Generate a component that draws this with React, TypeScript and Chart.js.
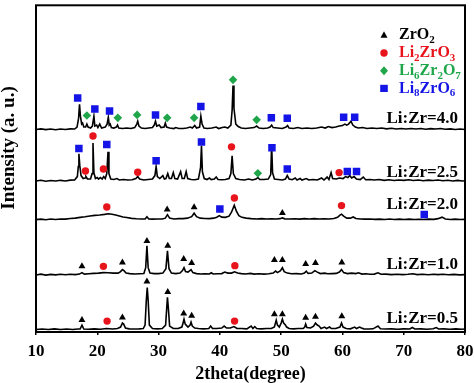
import { useEffect, useRef } from 'react';
import { Chart, registerables } from 'chart.js';

Chart.register(...registerables);

type Pt = [number, number];

const FONT = "'Liberation Serif', 'Times New Roman', serif";

// 2theta axis
const X_MIN = 10;
const X_MAX = 80;
const X_STEP = 10;

// Stacked patterns, bottom to top
const SAMPLE_LABELS = ['Li:Zr=0.5', 'Li:Zr=1.0', 'Li:Zr=2.0', 'Li:Zr=2.5', 'Li:Zr=4.0'];
const SAMPLE_OFFSETS = [2, 57, 113, 152, 204];
const LABEL_LEVELS = [14, 68, 129, 161, 216];

// Diffraction intensities (a. u.) above each pattern's baseline
const pattern05: Pt[] = [
  [10, 0.5], [11, 1], [12, 0.5], [13, 1.2], [14, 0.6], [15, 1], [16, 0.5], [16.8, 1],
  [17.2, 1], [17.5, 5], [17.8, 1], [18.5, 0.8], [19.5, 1.2], [20.5, 0.8], [21.5, 1.5], [22.5, 1], [23.3, 1.5],
  [23.8, 3], [24.1, 7], [24.3, 6], [24.6, 2], [25.2, 1.2], [26, 1], [26.8, 1.2], [27.5, 1.5],
  [27.8, 5], [28.0, 30], [28.15, 43], [28.3, 30], [28.5, 5], [29, 1.5], [29.8, 1.2], [30.6, 1.5],
  [31.15, 5], [31.35, 24], [31.45, 33], [31.6, 22], [31.8, 4], [32.4, 1.5], [33.2, 1.5], [33.8, 3],
  [34.0, 7], [34.15, 11], [34.35, 6], [34.8, 3], [35.15, 5], [35.3, 8], [35.5, 4], [35.9, 2],
  [36.5, 1.5], [37.3, 1.2], [38.2, 1.5], [38.5, 4], [38.8, 1.5], [39.5, 1.5], [40.3, 2], [40.7, 4], [41.1, 2],
  [41.7, 2], [42.3, 3.5], [42.8, 1.5], [43.5, 1.5], [44.4, 1.2], [45.1, 4], [45.4, 1.5], [45.7, 3.5], [46, 1.5],
  [46.8, 1.2], [47.6, 1.5], [48.4, 1.5], [48.9, 3], [49.2, 10], [49.4, 5], [49.7, 3],
  [50.0, 7], [50.2, 11], [50.4, 7], [50.7, 5], [50.9, 3], [51.3, 1.5], [52, 1.2], [52.8, 1.5], [53.6, 1.5],
  [53.85, 3], [54.0, 6], [54.2, 2.5], [54.8, 2], [55.3, 4], [55.6, 7], [55.9, 5], [56.2, 4], [56.5, 1.5],
  [57.1, 3], [57.4, 1.5], [57.9, 3], [58.2, 1.5], [58.9, 1.5], [59.6, 3], [59.85, 7], [60.1, 3], [60.6, 1.5],
  [61.3, 1.2], [62.0, 3], [62.3, 1.5], [62.8, 3], [63.1, 2], [63.5, 1.2], [64.3, 1], [65.0, 1.2], [65.8, 4],
  [66.2, 1.2], [67, 1], [68, 1.2], [69, 0.8], [70, 1.2], [71, 1], [71.4, 2.5], [71.8, 1], [72.8, 1.2],
  [73.8, 0.8], [74.8, 1.2], [75.3, 2.5], [75.7, 1], [76.5, 1.2], [77.5, 0.8], [78.5, 1.2], [79.5, 0.8], [80, 1],
];

const pattern10: Pt[] = [
  [10, 0.6], [10.8, 1.4], [11.6, 0.5], [12.4, 1.2], [13.2, 0.7], [14, 1.4], [14.8, 0.8], [15.6, 1.3], [16.4, 1],
  [17.1, 1.5], [17.5, 3], [17.9, 1.5], [18.6, 1.8], [19.4, 2.2], [20.2, 2.5], [21.0, 3], [21.8, 2.8], [22.6, 2.5],
  [23.4, 2.5], [23.8, 4], [24.1, 6], [24.35, 5], [24.7, 2.5], [25.3, 2], [26.1, 1.6], [26.9, 1.8], [27.6, 2],
  [27.9, 8], [28.1, 30], [28.3, 8], [28.6, 2.5], [29.3, 2], [30.0, 2], [30.7, 2.5], [31.2, 7], [31.45, 25],
  [31.7, 7], [32.1, 2.5], [32.8, 2], [33.5, 2.5], [33.9, 5], [34.15, 8], [34.4, 4], [34.8, 3.5], [35.3, 6],
  [35.6, 3], [36.2, 2], [36.9, 1.6], [37.6, 1.8], [38.3, 1.6], [38.6, 2.8], [38.9, 1.6], [39.6, 1.8], [40.3, 2],
  [40.8, 3.5], [41.3, 2.5], [41.9, 2.5], [42.4, 3.8], [42.9, 2.5], [43.5, 2], [44.2, 1.6], [45.0, 2.2], [45.6, 1.5],
  [46.4, 1.8], [47.2, 1.5], [48.0, 1.8], [48.7, 2.5], [49.1, 4.5], [49.4, 3], [49.9, 5], [50.2, 8], [50.5, 4],
  [51.0, 2.5], [51.7, 1.8], [52.5, 2], [53.3, 1.6], [53.8, 2.5], [54.1, 4.5], [54.4, 2.2], [55.0, 2.5], [55.5, 5],
  [55.9, 3.5], [56.4, 2], [57.1, 2.5], [57.6, 1.8], [58.3, 2], [59.0, 2.2], [59.5, 3.5], [59.85, 6], [60.2, 3],
  [60.8, 2], [61.5, 2.5], [62.2, 2], [62.6, 2.8], [63.2, 1.5], [63.8, 1.8], [64.5, 1.3], [65.2, 1.5], [65.8, 2.8],
  [66.3, 1.3], [67.1, 1.5], [68, 1], [68.9, 1.4], [69.8, 1], [70.7, 1.3], [71.5, 1.8], [72.2, 1], [73.1, 1.3],
  [74, 0.9], [74.9, 1.4], [75.6, 1], [76.4, 1.3], [77.3, 0.8], [78.2, 1.2], [79.1, 0.7], [80, 1],
];

const pattern20: Pt[] = [
  [10, 0.5], [10.8, 1], [11.6, 0.4], [12.4, 1.1], [13.2, 0.6], [14, 1.2], [14.8, 1], [15.6, 1.6], [16.4, 2],
  [17.2, 2.8], [18, 3.4], [18.8, 4.2], [19.6, 4.8], [20.4, 5.2], [21.2, 5.8], [21.8, 6.4], [22.4, 6], [23.0, 5.2],
  [23.6, 4.2], [24.2, 3.2], [24.8, 2.6], [25.6, 1.8], [26.4, 1.4], [27.2, 1.2], [27.8, 1.2], [28.1, 3.5], [28.4, 1.2],
  [29.0, 1], [29.8, 1.2], [30.6, 1.2], [31.1, 2], [31.45, 5.5], [31.8, 2], [32.5, 1.2], [33.3, 1.5], [34.0, 1.5],
  [34.7, 2], [35.4, 3.5], [35.8, 7], [36.2, 3.5], [36.8, 2], [37.5, 1.6], [38.3, 1.5], [39.0, 2], [39.5, 3],
  [39.9, 4.5], [40.3, 3], [40.9, 2.8], [41.5, 4], [41.9, 8], [42.35, 15], [42.7, 9], [43.1, 4.5], [43.6, 2.8],
  [44.3, 2], [45.1, 1.5], [46.0, 1.2], [46.8, 1.5], [47.6, 1.1], [48.4, 1.4], [49.2, 1.2], [49.8, 1.5], [50.2, 2.2],
  [50.6, 1.3], [51.4, 1.2], [52.2, 1.4], [53, 1], [53.8, 1.5], [54.6, 1.1], [55.4, 1.5], [56.2, 1.2], [57.0, 1.4],
  [57.8, 1.2], [58.6, 1.6], [59.2, 2.8], [59.6, 5], [59.85, 6], [60.2, 4], [60.7, 2], [61.3, 2], [61.75, 3.2],
  [62.2, 1.6], [62.9, 1.2], [63.7, 1], [64.5, 1.2], [65.3, 0.8], [66.1, 1], [66.9, 0.7], [67.7, 1.1], [68.5, 0.6],
  [69.3, 1], [70.1, 0.6], [70.9, 1], [71.7, 0.7], [72.5, 0.9], [73.3, 0.6], [74.1, 1], [74.9, 0.8], [75.6, 1.5],
  [76.25, 3], [76.8, 1.2], [77.6, 0.7], [78.4, 1], [79.2, 0.6], [80, 0.8],
];

const pattern25: Pt[] = [
  [10, 0.5], [10.8, 1.2], [11.6, 0.3], [12.4, 1], [13.2, 0.5], [14, 1.2], [14.8, 0.6], [15.6, 1.4], [16.3, 1.5],
  [16.75, 5], [16.9, 15], [17.0, 28], [17.15, 16], [17.35, 6], [17.7, 3], [18.0, 3.5], [18.15, 5], [18.4, 2.5],
  [18.9, 2.5], [19.15, 8], [19.3, 39], [19.45, 9], [19.7, 3], [20.0, 4], [20.2, 2.5], [20.5, 4], [20.8, 2.5],
  [21.05, 5], [21.3, 3], [21.55, 8], [21.75, 30], [21.9, 8], [22.2, 2.5], [22.7, 2], [23.2, 3], [23.6, 1.5],
  [24.3, 2], [25.0, 1.5], [25.7, 1.8], [26.3, 3], [26.6, 5], [26.9, 2.5], [27.6, 1.5], [28.3, 2], [29.0, 2.5],
  [29.4, 6], [29.6, 15], [29.8, 5], [30.2, 3], [30.7, 6], [30.95, 2.5], [31.2, 3], [31.5, 8], [31.75, 3],
  [32.1, 3], [32.4, 9], [32.65, 3], [33.1, 2.5], [33.6, 10], [33.85, 3], [34.2, 3], [34.5, 10], [34.75, 3],
  [35.3, 2], [35.9, 1.8], [36.5, 2.5], [36.85, 14], [37.0, 36], [37.15, 10], [37.45, 3], [37.9, 2], [38.3, 3.5],
  [38.6, 2], [39.1, 2.5], [39.4, 4.5], [39.7, 2], [40.3, 1.8], [40.9, 2], [41.5, 3], [41.8, 8], [42.0, 26],
  [42.2, 8], [42.6, 3], [43.2, 2], [44.0, 1.5], [44.7, 2.5], [45.3, 1.5], [45.9, 2.5], [46.2, 4], [46.5, 2],
  [47.2, 2], [47.9, 2.5], [48.3, 7], [48.45, 37], [48.6, 9], [48.9, 2.5], [49.5, 2], [50.2, 1.5], [50.7, 2.5],
  [51.0, 6], [51.3, 2.5], [51.8, 1.8], [52.3, 3.5], [52.6, 1.5], [53.1, 3], [53.4, 1.5], [54.1, 3], [54.5, 1.5],
  [55.2, 2], [55.9, 1.5], [56.6, 3.5], [57.0, 1.5], [57.5, 4.5], [57.8, 2], [58.15, 9], [58.4, 3], [59.0, 2.5],
  [59.5, 3.5], [60.1, 3], [60.5, 5], [60.9, 4], [61.2, 6], [61.5, 3.5], [61.9, 5], [62.3, 2.5], [62.9, 2],
  [63.4, 4.5], [63.8, 1.8], [64.5, 2], [65.2, 1.5], [66, 2], [66.8, 1.2], [67.6, 1.8], [68.4, 1], [69.2, 1.6],
  [70, 1.2], [70.8, 1.8], [71.6, 1], [72.4, 1.5], [73.2, 0.8], [74, 1.4], [74.8, 1], [75.6, 1.6], [76.4, 0.8],
  [77.2, 1.3], [78, 0.6], [78.8, 1.2], [79.6, 0.6], [80, 0.8],
];

const pattern40: Pt[] = [
  [10, 0.5], [10.8, 1.2], [11.6, 0.4], [12.4, 1], [13.2, 0.3], [14, 1.1], [14.8, 0.5], [15.6, 1.2], [16.3, 1],
  [16.7, 3], [16.95, 12], [17.1, 26], [17.25, 14], [17.45, 6], [17.6, 7], [17.8, 3], [18.1, 3], [18.3, 6],
  [18.5, 3], [18.9, 2], [19.2, 4], [19.45, 14], [19.6, 4], [19.9, 5], [20.1, 2.5], [20.4, 6], [20.7, 2],
  [21.3, 3], [21.6, 6], [21.8, 13], [21.95, 5], [22.1, 6], [22.3, 2.5], [22.7, 2], [23.1, 3], [23.3, 5],
  [23.5, 2], [24.1, 1.5], [24.8, 2], [25.5, 1.5], [26.1, 2.5], [26.45, 6], [26.6, 9], [26.8, 4], [27.2, 2],
  [27.8, 1.5], [28.4, 2], [29.0, 2.5], [29.3, 5], [29.5, 9], [29.7, 4], [30.1, 5], [30.4, 2.5], [30.9, 3],
  [31.1, 7], [31.3, 3], [31.8, 2], [32.5, 1.5], [32.8, 2.5], [33.3, 1.5], [34, 1.5], [34.6, 2], [35.2, 3],
  [35.5, 2], [35.9, 4.5], [36.2, 2], [36.7, 3], [36.9, 14], [37.1, 6], [37.4, 2], [38, 1.5], [38.7, 2],
  [39.4, 3], [39.8, 1.5], [40.4, 2.5], [40.8, 3], [41.3, 2], [41.8, 5], [42.0, 20], [42.15, 45], [42.3, 22],
  [42.6, 6], [43.0, 3.5], [43.5, 2], [44.2, 1.5], [44.9, 2], [45.6, 2.5], [46.0, 4], [46.4, 2], [47.1, 1.5],
  [47.8, 2], [48.2, 3], [48.45, 5], [48.7, 2.5], [49.4, 2], [50.2, 1.5], [50.8, 3], [51.05, 4.5], [51.3, 2],
  [52.0, 1.5], [52.7, 2.5], [53.4, 1.5], [54.2, 2], [55, 1.5], [55.8, 2], [56.6, 3], [57.2, 2], [57.7, 3.5],
  [58.3, 2.5], [58.9, 3], [59.5, 4], [60.0, 4.5], [60.4, 6], [60.7, 5], [61.0, 6], [61.4, 9], [61.7, 5],
  [62.1, 3], [62.6, 2], [63.3, 2.5], [64.0, 1.5], [64.8, 2], [65.6, 1.5], [66.4, 2], [67.2, 1.2], [68, 1.8],
  [68.8, 1], [69.6, 1.5], [70.4, 1], [71.2, 1.6], [72, 1], [72.8, 1.5], [73.6, 0.8], [74.4, 1.4], [75.2, 1],
  [76, 1.5], [76.8, 0.8], [77.6, 1.2], [78.4, 0.6], [79.2, 1], [80, 0.5],
];

const PATTERNS = [pattern05, pattern10, pattern20, pattern25, pattern40];

// Phase identification marks [2theta, level]
const zro2Marks: Pt[] = [
  [17.5, 12], [24.1, 14.7], [28.1, 51], [31.5, 40.3], [34.1, 18.7], [35.4, 16.3], [48.9, 18], [50.2, 18],
  [54.0, 14.3], [55.6, 15.3], [59.9, 16],
  [17.5, 66.3], [24.1, 70.3], [28.1, 92], [31.5, 87], [34.1, 73.7], [35.4, 69.7], [48.9, 72.7], [50.2, 72.7],
  [54.0, 68.7], [55.6, 69.7], [59.9, 70.3],
  [31.4, 123.7], [35.8, 126], [50.2, 120.3],
];
const li2zro3Marks: Pt[] = [
  [21.6, 11], [42.4, 11],
  [21.0, 66.3], [42.45, 67],
  [21.55, 126.3], [42.37, 135.3], [59.85, 127.7],
  [18.07, 162.7], [19.3, 198], [21.0, 164.7], [26.6, 161.3], [41.9, 187], [59.46, 161],
];
const li6zr2o7Marks: Pt[] = [
  [46.2, 160.3],
  [18.3, 218.7], [23.35, 216.3], [26.5, 219.3], [31.4, 216.3], [35.8, 216.3], [42.15, 254.7], [46.0, 214.3],
];
const li8zro6Marks: Pt[] = [
  [40.0, 124.3], [73.35, 118.7],
  [17.0, 185.3], [21.55, 189.3], [29.6, 173], [37.0, 192], [48.5, 186], [51.0, 164.7], [60.8, 162], [62.3, 162],
  [16.8, 236.3], [19.6, 225.3], [22.0, 223.3], [29.5, 219.3], [36.9, 227.7], [48.4, 216.3], [51.0, 216],
  [60.2, 217], [62.0, 217],
];

// Legend entries: text runs as [text, isSubscript]
type Run = [string, boolean];
const PHASES: { runs: Run[]; color: string; style: string }[] = [
  { runs: [['ZrO', false], ['2', true]], color: '#000000', style: 'triangle' },
  { runs: [['Li', false], ['2', true], ['ZrO', false], ['3', true]], color: '#e8141c', style: 'circle' },
  { runs: [['Li', false], ['6', true], ['Zr', false], ['2', true], ['O', false], ['7', true]], color: '#1fa64a', style: 'diamond' },
  { runs: [['Li', false], ['8', true], ['ZrO', false], ['6', true]], color: '#1414e6', style: 'square' },
];

const toXY = (pts: Pt[], offset = 0) => pts.map(([x, y]) => ({ x, y: y + offset }));

function drawMarker(ctx: CanvasRenderingContext2D, style: string, x: number, y: number, color: string) {
  ctx.fillStyle = color;
  ctx.beginPath();
  if (style === 'triangle') {
    ctx.moveTo(x, y - 4);
    ctx.lineTo(x + 3.5, y + 2.5);
    ctx.lineTo(x - 3.5, y + 2.5);
    ctx.closePath();
  } else if (style === 'circle') {
    ctx.arc(x, y, 3.7, 0, Math.PI * 2);
  } else if (style === 'diamond') {
    ctx.moveTo(x, y - 4.5);
    ctx.lineTo(x + 4, y);
    ctx.lineTo(x, y + 4.5);
    ctx.lineTo(x - 4, y);
    ctx.closePath();
  } else {
    ctx.rect(x - 3.8, y - 3.6, 7.6, 7.2);
  }
  ctx.fill();
}

const decorPlugin = {
  id: 'xrdDecor',
  afterDatasetsDraw(chart: any) {
    const { ctx, chartArea: a, scales } = chart;
    ctx.save();

    // frame
    ctx.strokeStyle = '#000';
    ctx.lineWidth = 2;
    ctx.strokeRect(a.left, a.top, a.right - a.left, a.bottom - a.top);

    // sample labels
    ctx.fillStyle = '#000';
    ctx.font = `bold 17px ${FONT}`;
    ctx.textAlign = 'right';
    ctx.textBaseline = 'middle';
    SAMPLE_LABELS.forEach((t, i) => {
      ctx.fillText(t, a.right - 7, scales.y.getPixelForValue(LABEL_LEVELS[i]));
    });

    // legend
    ctx.textAlign = 'left';
    PHASES.forEach((p, i) => {
      const cy = a.top + 30 + i * 17.7;
      drawMarker(ctx, p.style, a.left + 348, cy, p.color);
      let tx = a.left + 363;
      ctx.fillStyle = p.color;
      p.runs.forEach(([txt, sub]) => {
        ctx.font = sub ? `bold 11px ${FONT}` : `bold 16px ${FONT}`;
        ctx.fillText(txt, tx, cy + (sub ? 5 : 0));
        tx += ctx.measureText(txt).width;
      });
    });

    // y title
    ctx.fillStyle = '#000';
    ctx.font = `bold 19px ${FONT}`;
    ctx.textAlign = 'center';
    ctx.textBaseline = 'middle';
    ctx.translate(9, 148);
    ctx.rotate(-Math.PI / 2);
    ctx.fillText('Intensity (a. u.)', 0, 0);

    ctx.restore();
  },
};

export default function App() {
  const canvasRef = useRef<HTMLCanvasElement | null>(null);

  useEffect(() => {
    const canvas = canvasRef.current;
    if (!canvas) return;

    const lineSets = PATTERNS.map((p, i) => ({
      label: SAMPLE_LABELS[i],
      data: toXY(p, SAMPLE_OFFSETS[i]),
      showLine: true,
      borderColor: '#000',
      borderWidth: 1.6,
      pointRadius: 0,
      tension: 0,
      order: 2,
    }));

    const markSet = (label: string, pts: Pt[], style: string, radius: number, color: string) => ({
      label,
      data: toXY(pts),
      showLine: false,
      pointStyle: style,
      pointRadius: radius,
      backgroundColor: color,
      borderColor: color,
      borderWidth: 0,
      order: 1,
    });

    const chart = new Chart(canvas, {
      type: 'scatter',
      data: {
        datasets: [
          markSet('ZrO2', zro2Marks, 'triangle', 4, PHASES[0].color),
          markSet('Li2ZrO3', li2zro3Marks, 'circle', 3.7, PHASES[1].color),
          markSet('Li6Zr2O7', li6zr2o7Marks, 'rectRot', 4.3, PHASES[2].color),
          markSet('Li8ZrO6', li8zro6Marks, 'rect', 5.3, PHASES[3].color),
          ...lineSets,
        ] as any,
      },
      options: {
        responsive: false,
        animation: false,
        events: [],
        layout: { padding: { left: 36, right: 9, top: 2, bottom: 0 } },
        plugins: {
          legend: { display: false },
          tooltip: { enabled: false },
        },
        scales: {
          x: {
            type: 'linear',
            min: X_MIN,
            max: X_MAX,
            afterFit(scale: any) {
              // fixed axis band below the plot frame
              scale.height = 51;
              scale.paddingLeft = 0;
              scale.paddingRight = 0;
              scale.paddingTop = 0;
              scale.paddingBottom = 0;
            },
            ticks: {
              stepSize: X_STEP,
              color: '#000',
              padding: 8,
              font: { family: FONT, size: 17, weight: 'bold', lineHeight: 1 },
            },
            grid: {
              display: true,
              drawOnChartArea: false,
              drawTicks: true,
              tickLength: 3,
              color: '#000',
              lineWidth: 1.5,
            },
            border: { display: false },
            title: {
              display: true,
              text: '2theta(degree)',
              color: '#000',
              font: { family: FONT, size: 18, weight: 'bold', lineHeight: 1 },
              padding: { top: 0, bottom: 0 },
            },
          },
          y: {
            type: 'linear',
            min: 0,
            max: 330,
            display: false,
          },
        },
      } as any,
      plugins: [decorPlugin],
    });

    return () => chart.destroy();
  }, []);

  return (
    <div style={{ position: 'fixed', left: 0, top: 0, width: 474, height: 383, background: '#fff' }}>
      <canvas ref={canvasRef} width={474} height={383} style={{ display: 'block' }} />
    </div>
  );
}
